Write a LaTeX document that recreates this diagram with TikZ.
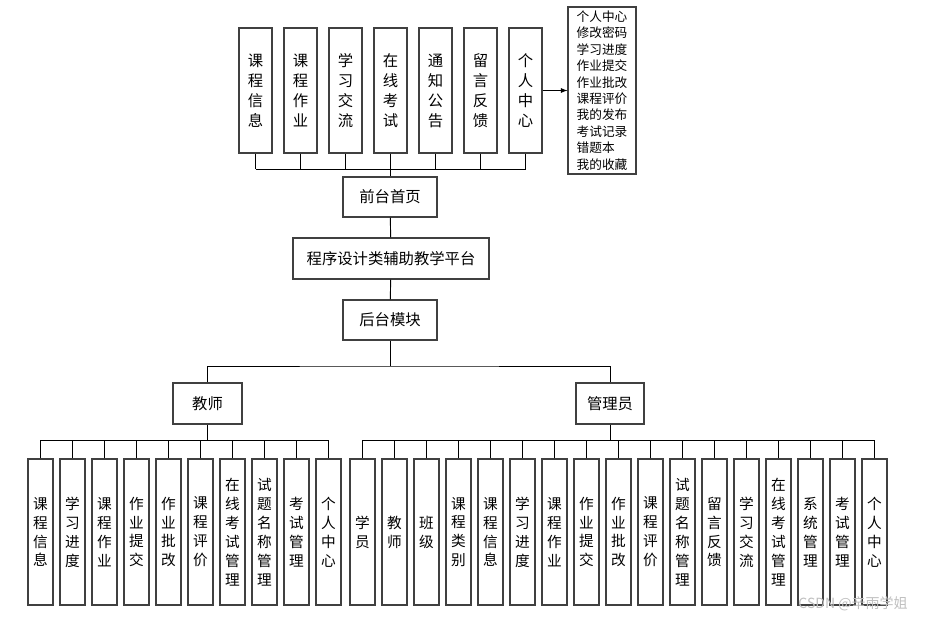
\documentclass[tikz,border=0pt]{standalone}
\usepackage{fontspec}
\setmainfont{Noto Sans CJK SC}
\begin{document}
\begin{tikzpicture}[x=0.75pt,y=-0.75pt,
 box/.style={draw=black!75,line width=0.8pt,fill=white,inner sep=0pt,align=center,font=\fontsize{11.5}{14.5}\selectfont},
 leaf/.style={box,minimum width=18.75pt,minimum height=109.5pt,font=\fontsize{11}{14.2}\selectfont},
 tp/.style={box,minimum width=24.75pt,minimum height=93.75pt,font=\fontsize{11.5}{15}\selectfont},
 wide/.style={box,minimum width=70.5pt,minimum height=30pt},
 ln/.style={draw=black,line width=0.7pt}]
\useasboundingbox (0,0) rectangle (926,620);
% top
\foreach \t [count=\i] in {课\\程\\信\\息,课\\程\\作\\业,学\\习\\交\\流,在\\线\\考\\试,通\\知\\公\\告,留\\言\\反\\馈,个\\人\\中\\心}{
  \node[tp] (t\i) at ({239+16.5+45*(\i-1)},90.5) {\t};
  \coordinate (tb\i) at ({239+16.5+45*(\i-1)},169);
  \draw[ln] (t\i.south) -- (tb\i);
}
\draw[ln] (tb1) -- (tb7);
\node[box,minimum width=51pt,minimum height=125.25pt,align=left,font=\fontsize{9.5}{12.3}\selectfont] (list) at (602,90.5) {个人中心\\修改密码\\学习进度\\作业提交\\作业批改\\课程评价\\我的发布\\考试记录\\错题本\\我的收藏};
\draw[ln,-latex] (t7.east) -- (list.west);
\node[wide] (front) at (390,197) {前台首页};
\draw[ln] (front.north) -- (front.north|-tb1);
\node[box,minimum width=147pt,minimum height=30.75pt] (plat) at (391,258.5) {程序设计类辅助教学平台};
\node[wide] (back) at (390,320) {后台模块};
\draw[ln] (front) -- (plat);
\draw[ln] (plat) -- (back);
\node[box,minimum width=51.75pt,minimum height=30.75pt] (teach) at (207.5,403.5) {教师};
\node[box,minimum width=51pt,minimum height=30.75pt] (admin) at (610,403.5) {管理员};
\coordinate (bj) at (390,366);
\draw[ln] (back.south) -- (bj);
\draw[ln] (teach.north) |- (bj) -| (admin.north);
% teacher leaves
\foreach \t [count=\i] in {课\\程\\信\\息,学\\习\\进\\度,课\\程\\作\\业,作\\业\\提\\交,作\\业\\批\\改,课\\程\\评\\价,在\\线\\考\\试\\管\\理,试\\题\\名\\称\\管\\理,考\\试\\管\\理,个\\人\\中\\心}{
  \node[leaf] (a\i) at ({28+12.5+32*(\i-1)},532) {\t};
  \coordinate (ab\i) at ({28+12.5+32*(\i-1)},440);
  \draw[ln] (a\i.north) -- (ab\i);
}
\draw[ln] (ab1) -- (ab10);
\draw[ln] (teach.south) -- (teach.south|-ab1);
% admin leaves
\foreach \t [count=\i] in {学\\员,教\\师,班\\级,课\\程\\类\\别,课\\程\\信\\息,学\\习\\进\\度,课\\程\\作\\业,作\\业\\提\\交,作\\业\\批\\改,课\\程\\评\\价,试\\题\\名\\称\\管\\理,留\\言\\反\\馈,学\\习\\交\\流,在\\线\\考\\试\\管\\理,系\\统\\管\\理,考\\试\\管\\理,个\\人\\中\\心}{
  \node[leaf] (m\i) at ({350+12.5+32*(\i-1)},532) {\t};
  \coordinate (mb\i) at ({350+12.5+32*(\i-1)},440);
  \draw[ln] (m\i.north) -- (mb\i);
}
\draw[ln] (mb1) -- (mb17);
\draw[ln] (admin.south) -- (admin.south|-mb1);
\node[text=black!25,font=\fontsize{10.5}{12}\selectfont] (wm) at (853,604) {CSDN @辛雨学姐};
\end{tikzpicture}
\end{document}
